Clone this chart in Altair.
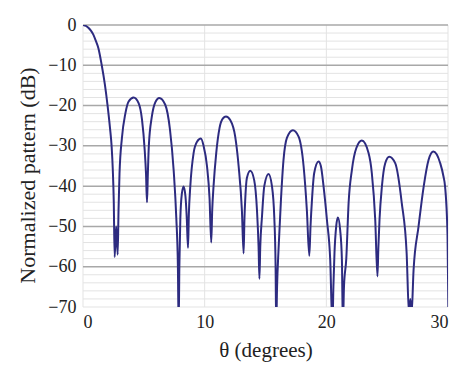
import altair as alt
import pandas as pd

theta_deg = [
    0.0, 0.25, 0.44, 0.65, 0.85, 1.05, 1.26, 1.53, 1.8, 2.02, 2.22, 2.35, 2.45, 2.53, 2.6, 2.73, 2.85,
    2.92, 3.0, 3.2, 3.48, 3.75, 4.16, 4.57, 4.85, 5.07, 5.18, 5.26,
    5.33, 5.41, 5.66, 5.94, 6.27, 6.76, 7.15, 7.45, 7.67, 7.8, 7.86,
    7.92, 8.0, 8.12, 8.27, 8.42, 8.53, 8.63,
    8.7, 8.82, 9.09, 9.37, 9.69, 9.91, 10.19, 10.4, 10.54,
    10.62, 10.73, 10.95, 11.22, 11.5, 11.75, 12.1, 12.51, 12.79, 13.06, 13.2,
    13.27, 13.34, 13.47, 13.75, 14.07, 14.3, 14.43, 14.5,
    14.57, 14.71, 14.9, 15.25, 15.53, 15.72, 15.83, 15.88,
    15.95, 16.07, 16.27, 16.48, 16.76, 17.25, 17.72, 18.13, 18.4, 18.6,
    18.7, 18.82, 19.0, 19.36, 19.55, 19.77, 20.05, 20.32, 20.5,
    20.58, 20.67, 20.81, 20.95, 21.14, 21.28, 21.36,
    21.45, 21.64, 21.83, 22.1, 22.46, 22.92, 23.47, 23.74, 24.02, 24.2,
    24.28, 24.37, 24.57, 24.84, 25.17, 25.66, 26.2, 26.6, 26.8, 26.9, 27.0,
    27.17, 27.58, 28.0, 28.4, 28.8, 29.36, 29.63, 29.76, 29.96, 30.05,
]
pattern_db = [
    0.0, -0.25, -0.7, -1.4, -2.4, -3.9, -5.7, -9.8, -14.8, -20.0, -25.6, -30.0, -36.0, -44.0, -57.6, -50.0, -57.0,
    -46.0, -37.0, -28.0, -22.0, -19.0, -18.0, -19.4, -23.5, -31.0, -37.0, -44.0,
    -37.0, -30.0, -22.7, -19.2, -18.1, -19.8, -26.0, -36.0, -48.0, -60.0, -75.0,
    -60.0, -48.0, -42.0, -40.1, -42.5, -48.0, -55.3,
    -47.0, -40.0, -31.8, -29.0, -28.2, -30.0, -35.0, -43.0, -54.0,
    -46.0, -40.0, -31.8, -25.6, -23.2, -22.7, -23.6, -27.7, -35.0, -46.0, -56.7,
    -48.0, -43.0, -38.0, -36.2, -38.5, -46.0, -55.0, -63.0,
    -55.0, -47.6, -40.0, -37.0, -40.0, -47.6, -60.0, -75.0,
    -65.0, -55.8, -43.4, -33.5, -28.0, -26.1, -27.7, -35.0, -46.0, -57.3,
    -50.0, -43.4, -36.8, -33.9, -35.0, -40.0, -48.4, -58.3, -75.0,
    -65.0, -56.6, -50.0, -47.8, -51.0, -58.3, -75.0,
    -65.0, -58.0, -44.2, -36.0, -30.6, -28.7, -31.8, -36.8, -48.4, -62.4,
    -55.0, -48.4, -40.0, -34.3, -32.7, -34.3, -44.2, -56.6, -72.0, -68.0, -72.0,
    -60.8, -50.0, -40.1, -33.5, -31.4, -34.3, -37.6, -40.1, -52.0, -75.0,
]

y_ticks = [0, -10, -20, -30, -40, -50, -60, -70]
x_ticks = [0, 10, 20, 30]
major_grid = [0, -10, -20, -30, -40, -50, -60]
minor_grid = [-2, -4, -6, -8, -12, -14, -16, -18, -22, -24, -26, -28, -32, -34, -36, -38,
              -42, -44, -46, -48, -52, -54, -56, -58, -62, -64, -66, -68, -70]

df = pd.DataFrame({"theta": theta_deg, "db": pattern_db})
df_major = pd.DataFrame({"y": major_grid})
df_minor = pd.DataFrame({"y": minor_grid})
df_vert = pd.DataFrame({"x": x_ticks})

xs = alt.Scale(domain=[0, 30], nice=False, zero=False)
ys = alt.Scale(domain=[-70, 0], nice=False, zero=False)

minor = alt.Chart(df_minor).mark_rule(color="#e3e3e3", strokeWidth=1).encode(
    y=alt.Y("y:Q", scale=ys)
)
vert = alt.Chart(df_vert).mark_rule(color="#e3e3e3", strokeWidth=1).encode(
    x=alt.X("x:Q", scale=xs)
)
major = alt.Chart(df_major).mark_rule(color="#a8a8a8", strokeWidth=1.5).encode(
    y=alt.Y("y:Q", scale=ys)
)

line = alt.Chart(df).mark_line(
    color="#2d2b80", strokeWidth=2, clip=True, interpolate="monotone"
).encode(
    x=alt.X("theta:Q", scale=xs,
            axis=alt.Axis(values=x_ticks, title="θ (degrees)", grid=False, domain=False,
                          ticks=False, labelPadding=6, titlePadding=8, format="d",
                          titleFontSize=21)),
    y=alt.Y("db:Q", scale=ys,
            axis=alt.Axis(values=y_ticks, title="Normalized pattern (dB)", grid=False,
                          domain=False, ticks=False, labelPadding=7, titlePadding=8, format="d",
                          titleFontSize=22, titleY=150)),
)

chart = alt.layer(minor, vert, major, line).properties(
    width=365, height=282,
    autosize=alt.AutoSizeParams(type="none"),
    padding={"left": 83, "top": 25, "right": 26, "bottom": 73},
).configure_view(stroke=None).configure_axis(
    labelFont="Liberation Serif", titleFont="Liberation Serif",
    labelFontSize=18, labelColor="#222222", titleColor="#222222",
    titleFontWeight="normal",
)

chart.save("out.html", embed_options={"renderer": "svg", "actions": False})
